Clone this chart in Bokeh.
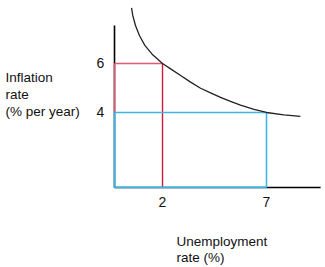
from bokeh.plotting import figure
from bokeh.embed import file_html
from bokeh.resources import INLINE
from bokeh.core.properties import value

# Data
curve_x = [0.51, 0.57, 0.70, 0.89, 1.15, 1.50, 2.0, 2.39, 2.87, 3.35, 3.83,
           4.31, 4.79, 5.27, 5.75, 6.40, 7.0, 7.83, 8.63]
curve_y = [8.27, 7.96, 7.55, 7.14, 6.74, 6.38, 6.0, 5.78, 5.51, 5.24, 4.99,
           4.80, 4.62, 4.45, 4.30, 4.13, 4.0, 3.90, 3.84]
point_a = (2, 6)   # red
point_b = (7, 4)   # blue
x_ticks = [2, 7]
y_ticks = [4, 6]
y_label = ["Inflation", "rate", "(% per year)"]
x_label = ["Unemployment", "rate (%)"]

# Frame geometry (data units)
X0, X1 = -0.308, 9.6     # origin and end of horizontal axis
Y0, Y1 = 0.94, 7.55      # origin and end of vertical axis
PX = 1 / 20.8            # data units per pixel (x)
PY = 1 / 24.5            # data units per pixel (y)

RED = "#d7163c"
PINK = "#e25a72"
BLUE = "#3fb6e6"
FONT = value("Liberation Sans")

p = figure(width=325, height=267, x_range=(-5.789, 9.836), y_range=(-2.327, 8.571),
           output_backend="svg", toolbar_location=None, min_border=0)
p.axis.visible = False
p.grid.visible = False
p.outline_line_color = None
p.background_fill_color = "white"
p.border_fill_color = "white"

# axes
p.line([X0, X0], [Y0, Y1], line_color="black", line_width=1.6)
p.line([X0, X1], [Y0, Y0], line_color="black", line_width=1.6)

# red guide lines
ax, ay = point_a
p.line([X0, ax], [ay, ay], line_color=PINK, line_width=1.6)
p.line([ax, ax], [ay, Y0], line_color=RED, line_width=1.4)
p.line([X0, X0], [point_b[1], ay], line_color=PINK, line_width=1.6)

# blue guide lines
bx, by = point_b
p.line([X0, bx], [by, by], line_color=BLUE, line_width=1.6)
p.line([bx, bx], [by, Y0], line_color=BLUE, line_width=1.6)
p.line([X0, bx], [Y0, Y0], line_color=BLUE, line_width=1.8)
p.line([X0, X0], [Y0, by], line_color=BLUE, line_width=1.8)

# curve
p.line(curve_x, curve_y, line_color="#222222", line_width=1.3, line_join="round")

# tick labels
p.text(x=x_ticks, y=[Y0 - 15 * PY] * len(x_ticks), text=[str(t) for t in x_ticks],
       text_align="center", text_baseline="middle", text_font=FONT,
       text_font_size="14px", text_color="#111111")
p.text(x=[X0 - 14 * PX] * len(y_ticks), y=y_ticks, text=[str(t) for t in y_ticks],
       text_align="center", text_baseline="middle", text_font=FONT,
       text_font_size="14px", text_color="#111111")

# axis titles
p.text(x=[X0 - 109 * PX] * 3, y=[4 + 35 * PY, 4 + 17.5 * PY, 4 + 1 * PY], text=y_label,
       text_align="left", text_baseline="middle", text_font=FONT,
       text_font_size="13.5px", text_color="#111111")
p.text(x=[X0 + 62 * PX] * 2, y=[4 - 129 * PY, 4 - 145 * PY], text=x_label,
       text_align="left", text_baseline="middle", text_font=FONT,
       text_font_size="13.5px", text_color="#111111")

open("out.html", "w").write(file_html(p, INLINE))
